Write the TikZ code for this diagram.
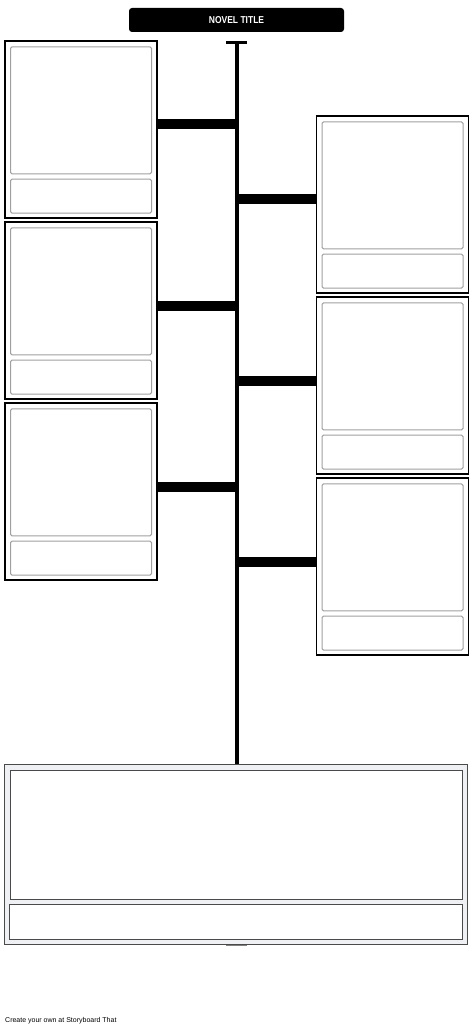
\documentclass[tikz,border=0pt]{standalone}
\usepackage{fontspec}
\setmainfont{Liberation Sans}
\newfontfamily\titlefont[FakeStretch=0.85]{Liberation Sans}
\definecolor{panelgray}{HTML}{A0A0A0}
\definecolor{bandgray}{HTML}{EEF0F3}
\definecolor{framegray}{HTML}{4A4A4A}
\tikzset{
  frame/.style={draw=black, line width=1.3pt, fill=white, inner sep=0pt,
    minimum width=152pt, minimum height=177pt},
  picpanel/.style={draw=panelgray, line width=1pt, rounded corners=1.5pt, inner sep=0pt,
    minimum width=141pt, minimum height=127pt, anchor=north},
  cappanel/.style={draw=panelgray, line width=1pt, rounded corners=1.5pt, inner sep=0pt,
    minimum width=141pt, minimum height=34pt, anchor=south},
  link/.style={line width=10pt},
}

\begin{document}
\begin{tikzpicture}[x=1pt,y=-1pt]
  \useasboundingbox (0,0) rectangle (474,1024);
  % title bar
  \node[fill=black, rounded corners=3pt, minimum width=215pt, minimum height=24pt, text=white,
    font=\titlefont\bfseries\fontsize{10}{12}\selectfont] (title) at (236.5,20) {NOVEL TITLE};
  % spine
  \coordinate (spinetop) at (236.5,43);
  \coordinate (spinebot) at (236.5,764);
  \coordinate (capl) at (226,43);
  \coordinate (capr) at (247,43);
  \draw[line width=4pt] (spinetop) -- (spinebot);
  \draw[line width=3pt] (capl) -- (capr);
  % left frames
  \node[frame] (l1) at (81,129.5) {};
  \node[frame] (l2) at (81,310.5) {};
  \node[frame] (l3) at (81,491.5) {};
  % right frames
  \node[frame] (r1) at (392.5,204.5) {};
  \node[frame] (r2) at (392.5,385.5) {};
  \node[frame] (r3) at (392.5,566.5) {};
  % panels
  \node[picpanel] (l1pic) at ([yshift=-6pt]l1.north) {};
  \node[cappanel] (l1cap) at ([yshift=5pt]l1.south) {};
  \node[picpanel] (l2pic) at ([yshift=-6pt]l2.north) {};
  \node[cappanel] (l2cap) at ([yshift=5pt]l2.south) {};
  \node[picpanel] (l3pic) at ([yshift=-6pt]l3.north) {};
  \node[cappanel] (l3cap) at ([yshift=5pt]l3.south) {};
  \node[picpanel] (r1pic) at ([yshift=-6pt]r1.north) {};
  \node[cappanel] (r1cap) at ([yshift=5pt]r1.south) {};
  \node[picpanel] (r2pic) at ([yshift=-6pt]r2.north) {};
  \node[cappanel] (r2cap) at ([yshift=5pt]r2.south) {};
  \node[picpanel] (r3pic) at ([yshift=-6pt]r3.north) {};
  \node[cappanel] (r3cap) at ([yshift=5pt]r3.south) {};
  % links to the spine
  \coordinate (jl1) at ([yshift=5pt]l1.east);
  \coordinate (jl2) at ([yshift=5pt]l2.east);
  \coordinate (jl3) at ([yshift=5pt]l3.east);
  \coordinate (jr1) at ([yshift=5pt]r1.west);
  \coordinate (jr2) at ([yshift=5pt]r2.west);
  \coordinate (jr3) at ([yshift=5pt]r3.west);
  \draw[link] (jl1) -- (jl1 -| spinetop);
  \draw[link] (jl2) -- (jl2 -| spinetop);
  \draw[link] (jl3) -- (jl3 -| spinetop);
  \draw[link] (jr1) -- (jr1 -| spinetop);
  \draw[link] (jr2) -- (jr2 -| spinetop);
  \draw[link] (jr3) -- (jr3 -| spinetop);
  % summary box
  \draw[line width=2pt, framegray!70] (226,945) -- (247,945);
  \node[draw=framegray, fill=bandgray, line width=1pt, inner sep=0pt,
    minimum width=463pt, minimum height=180pt] (summary) at (235.5,854) {};
  \node[draw=framegray, fill=white, line width=0.9pt, inner sep=0pt,
    minimum width=452pt, minimum height=129pt] (sumpic) at (236,834.5) {};
  \node[draw=framegray, fill=white, line width=0.9pt, inner sep=0pt,
    minimum width=453pt, minimum height=35pt] (sumcap) at (235.5,921.5) {};
  % footer
  \node[anchor=base west, inner sep=0pt, font=\fontsize{7}{8}\selectfont] (credit) at (5,1022)
    {Create your own at Storyboard That};
\end{tikzpicture}
\end{document}
